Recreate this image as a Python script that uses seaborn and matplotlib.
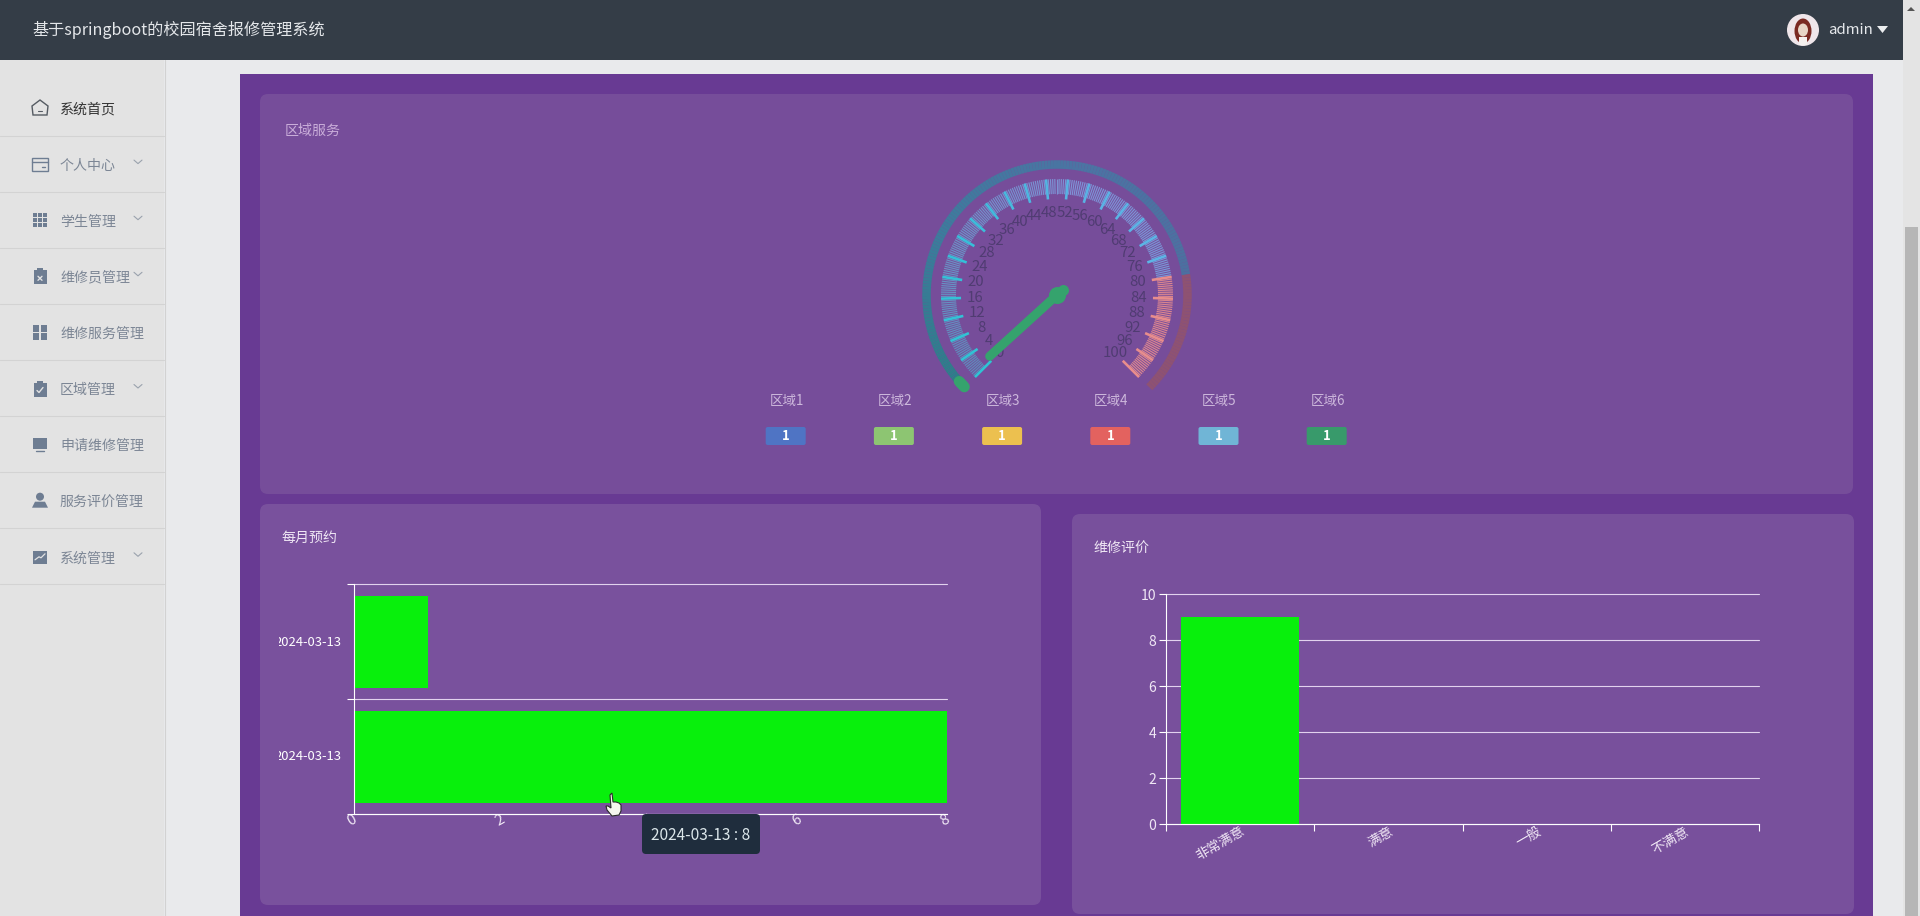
# campus dorm repair dashboard: gauge plus two bar charts inside the admin page shell

import numpy as np
import pandas as pd
import seaborn as sns
import matplotlib.pyplot as plt
from matplotlib.colors import LinearSegmentedColormap
from matplotlib.patches import Circle, Ellipse, FancyBboxPatch, Polygon, Rectangle
from matplotlib.transforms import Affine2D, Bbox

W, H = 1920, 916

page_title = "基于springboot的校园宿舍报修管理系统"
user_name = "admin"
menu_names = ["系统首页", "个人中心", "学生管理", "维修员管理", "维修服务管理",
              "区域管理", "申请维修管理", "服务评价管理", "系统管理"]
menu_has_arrow = [False, True, True, True, False, True, False, False, True]

gauge_title = "区域服务"
gauge_value = 1
gauge_ticks = list(range(0, 101, 4))
region_names = ["区域1", "区域2", "区域3", "区域4", "区域5", "区域6"]
region_values = [1, 1, 1, 1, 1, 1]
region_colors = ["#4f74c4", "#8dc572", "#ecc04f", "#e3625f", "#70b5d6", "#389a6b"]

month_title = "每月预约"
month_labels = ["2024-03-13", "2024-03-13"]
month_values = [1, 8]
month_ticks = [0, 2, 4, 6, 8]
tooltip_text = "2024-03-13 : 8"

rating_title = "维修评价"
rating_names = ["非常满意", "满意", "一般", "不满意"]
rating_values = [9, 0, 0, 0]
rating_ticks = [0, 2, 4, 6, 8, 10]

GREEN = "#08f00c"
GRID = "#e2d2ee"
LIGHT = "#efe6f4"


def px(size):
    # css pixels to points at dpi 100
    return size * 0.72


def rect_of(x0, y0, x1, y1):
    return [x0 / W, 1 - y1 / H, (x1 - x0) / W, (y1 - y0) / H]


def card(ax, x0, y0, x1, y1, color, radius=8):
    ax.add_patch(FancyBboxPatch((x0, y0), x1 - x0, y1 - y0, linewidth=0, facecolor=color,
                                boxstyle=f"round,pad=0,rounding_size={radius}"))


def draw_icon(ax, i, cx, cy, c):
    if i == 0:  # home
        ax.add_patch(Polygon([(cx - 8, cy - 2), (cx, cy - 8), (cx + 8, cy - 2), (cx + 7, cy + 7), (cx - 7, cy + 7)],
                             closed=True, fill=False, edgecolor="#555b63", lw=1))
        ax.plot([cx - 2, cx + 2], [cy + 3, cy + 3], color="#555b63", lw=0.8)
    elif i == 1:  # wallet
        ax.add_patch(Rectangle((cx - 8, cy - 6), 16, 13, fill=False, edgecolor=c, lw=1))
        ax.plot([cx - 8, cx + 8], [cy - 2, cy - 2], color=c, lw=1)
        ax.plot([cx + 2, cx + 5], [cy + 3, cy + 3], color=c, lw=1)
    elif i == 2:  # grid
        for a in (-7, -2, 3):
            for b in (-7, -2, 3):
                ax.add_patch(Rectangle((cx + a, cy + b), 4.2, 4.2, color=c, lw=0))
    elif i in (3, 5):  # clipboards
        ax.add_patch(Rectangle((cx - 6.5, cy - 6), 13, 14, color=c, lw=0))
        ax.add_patch(Rectangle((cx - 3, cy - 8), 6, 4, color=c, lw=0))
        if i == 3:
            ax.plot([cx - 2, cx + 2], [cy, cy + 4], color="#e3e3e3", lw=1)
            ax.plot([cx - 2, cx + 2], [cy + 4, cy], color="#e3e3e3", lw=1)
        else:
            ax.plot([cx - 3, cx - 1, cx + 3], [cy + 2, cy + 4, cy - 1], color="#e3e3e3", lw=1)
    elif i == 4:  # four squares
        for a in (-7, 1):
            for b in (-7, 1):
                ax.add_patch(Rectangle((cx + a, cy + b), 6.2, 6.2, color=c, lw=0))
    elif i == 6:  # monitor
        ax.add_patch(Rectangle((cx - 7, cy - 7), 14, 11, color=c, lw=0))
        ax.plot([cx - 4, cx + 4], [cy + 6, cy + 6], color=c, lw=1)
    elif i == 7:  # person
        ax.add_patch(Circle((cx, cy - 4), 4, color=c, lw=0))
        ax.add_patch(Polygon([(cx - 8, cy + 7), (cx - 5, cy + 1), (cx + 5, cy + 1), (cx + 8, cy + 7)], color=c, lw=0))
    else:  # chart
        ax.add_patch(Rectangle((cx - 7, cy - 6), 14, 13, color=c, lw=0))
        ax.plot([cx - 5, cx - 1, cx + 1, cx + 5], [cy + 3, cy, cy + 1, cy - 3], color="#e3e3e3", lw=0.9)


sns.set_theme(style="white")
plt.rcParams["font.family"] = ["Noto Sans CJK SC", "DejaVu Sans"]
plt.rcParams["axes.unicode_minus"] = False

fig = plt.figure(figsize=(W / 100, H / 100), dpi=100, facecolor="#e9eaec")

# page shell
bg = fig.add_axes([0, 0, 1, 1], zorder=0)
bg.set_xlim(0, W)
bg.set_ylim(H, 0)
bg.axis("off")

bg.add_patch(Rectangle((0, 60), 164, H - 60, color="#e3e3e3", lw=0))
bg.plot([164.5, 164.5], [60, H], color="#d2d2d2", lw=0.8)
bg.add_patch(Rectangle((240, 74), 1633, H - 74, color="#683a93", lw=0))
card(bg, 260, 94, 1853, 494, "#764d9a")
card(bg, 260, 504, 1041, 905, "#79519d")
card(bg, 1072, 514, 1854, 914, "#78509c")
bg.add_patch(Rectangle((0, 0), 1903, 60, color="#343d47", lw=0))
bg.text(32, 30, page_title, color="#e4e7ea", fontsize=px(16.1), va="center")

# scrollbar
bg.add_patch(Rectangle((1903, 0), 17, H, color="#e4e4e4", lw=0))
bg.add_patch(Rectangle((1905, 227), 13, H - 227, color="#b6b6b6", lw=0))
bg.add_patch(Polygon([(1907, 11), (1911, 7), (1915, 11)], color="#555555", lw=0))

# user block
bg.add_patch(Circle((1803, 30), 16, color="#efe6ea", lw=0))
bg.add_patch(Ellipse((1803, 31), 17, 25, color="#7a2a22", lw=0))
bg.add_patch(Ellipse((1803, 30), 10, 13, color="#e8d5c6", lw=0))
bg.add_patch(Rectangle((1799, 37), 8, 8, color="#f4f0ee", lw=0))
bg.text(1828, 30, user_name, color="#e6e9ec", fontsize=px(15), va="center")
bg.add_patch(Polygon([(1877, 26), (1888, 26), (1882.5, 33)], color="#eceef0", lw=0))

# sidebar menu
for i, name in enumerate(menu_names):
    cy = 108 + i * 56.1
    bg.text(60, cy + 1.5, name, color="#333333" if i == 0 else "#7c8695", fontsize=px(14), va="center")
    draw_icon(bg, i, 40, cy, "#6e7d92")
    bg.plot([0, 164], [136 + i * 56, 136 + i * 56], color="#d3d3d3", lw=0.8)
    if menu_has_arrow[i]:
        bg.plot([134, 138, 142], [cy - 4, cy - 0.5, cy - 4], color="#9aa2ad", lw=0.8)

bg.text(285, 131, gauge_title, color="#c9add9", fontsize=px(14), va="center")
bg.text(281, 538, month_title, color=LIGHT, fontsize=px(14), va="center")
bg.text(1093, 549, rating_title, color=LIGHT, fontsize=px(14), va="center")

# gauge
gx, gy, gr = 1057, 295, 140
gauge = fig.add_axes(rect_of(gx - gr, gy - gr, gx + gr, gy + gr), projection="polar", zorder=2)
gauge.set_ylim(0, gr)
gauge.axis("off")


def angle(v):
    return np.radians(225 - np.asarray(v) / 100 * 270)


ring_cold = LinearSegmentedColormap.from_list("ring", ["#2d7d88", "#3c7c9c", "#4b74a3", "#4c70a0"])
band_cold = LinearSegmentedColormap.from_list("band", ["#5c8dbb", "#6c92c6", "#7f92d6", "#7896d6"])
tick_cold = LinearSegmentedColormap.from_list("tick", ["#2fc4d4", "#35c0d8", "#5ab2e4", "#5cb6e6"])


def pick(cmap, hot, v):
    return hot if v >= 80 else cmap(v / 80)


ring_steps = np.arange(0, 100.01, 0.5)
for v0, v1 in zip(ring_steps[:-1], ring_steps[1:]):
    gauge.plot(angle([v0, v1]), [130.5, 130.5], color=pick(ring_cold, "#8e5272", v0), lw=px(8.5),
               solid_capstyle="butt")
gauge.plot(angle([0.1, gauge_value + 0.3]), [130.5, 130.5], color="#35a36d", lw=px(11), solid_capstyle="round")

minor_values = np.arange(0, 100.01, 0.4)
gauge.vlines(angle(minor_values), 101, 116, colors=[pick(band_cold, "#d9858f", v) for v in minor_values],
             lw=px(1.2))
for t in gauge_ticks:
    low = 93 if t in (0, 100) else 96
    gauge.plot(angle([t, t]), [low, 116], color=pick(tick_cold, "#e88d8c", t), lw=px(2.6),
               solid_capstyle="butt")
    gauge.text(angle(t), 82, str(t), color="#503c72", fontsize=px(15), ha="center", va="center")

gauge.plot([angle(gauge_value)] * 2, [91, 0], color="#35a36d", lw=px(9), solid_capstyle="round", zorder=5)
gauge.scatter([0], [0], s=px(17) ** 2, color="#35a36d", zorder=5, linewidths=0)
gauge.scatter([angle(gauge_value) + np.pi], [8], s=px(11) ** 2, color="#35a36d", zorder=5, linewidths=0)

# legend row under the gauge
for i, (name, val, col) in enumerate(zip(region_names, region_values, region_colors)):
    cx = 785.7 + i * 108.2
    bg.text(cx + 1, 401, name, color="#cdb8dc", fontsize=px(13.5), ha="center", va="center")
    card(bg, cx - 20, 427, cx + 20, 445, col, radius=2)
    bg.text(cx, 435.5, str(val), color="white", fontsize=px(13), fontweight="bold", ha="center", va="center")

# monthly bookings, horizontal bars (labels repeat so bars are keyed by row)
month_df = pd.DataFrame({"row": range(len(month_values)), "count": month_values})
ax1 = fig.add_axes(rect_of(354, 584, 947, 814), zorder=3)
sns.barplot(data=month_df, x="count", y="row", orient="h", color=GREEN, saturation=1, width=0.8,
            linewidth=0, ax=ax1)
ax1.set_xlim(0, 8)
ax1.set_xlabel("")
ax1.set_ylabel("")
ax1.set_facecolor("none")
ax1.set_axisbelow(True)
ax1.set_xticks(month_ticks)
ax1.set_xticklabels(month_ticks, rotation=30, ha="right", va="top", rotation_mode="anchor", color=LIGHT,
                    fontsize=px(15))
ax1.set_yticks(range(len(month_labels)))
ax1.set_yticklabels(month_labels, color="white", fontsize=px(13))
ax1.set_yticks([-0.5, 0.5, 1.5], minor=True)
ax1.tick_params(axis="x", length=0, pad=-1)
ax1.tick_params(axis="y", which="major", length=0, pad=9)
ax1.tick_params(axis="y", which="minor", length=5, width=0.8, color="white", left=True)
ax1.grid(axis="y", which="minor", color=GRID, lw=0.8, clip_on=False)
ax1.grid(axis="y", which="major", visible=False)
for side in ("top", "right"):
    ax1.spines[side].set_visible(False)
for side in ("left", "bottom"):
    ax1.spines[side].set_color("white")
    ax1.spines[side].set_linewidth(0.8)
for lab in ax1.get_xticklabels():
    lab.set_transform(lab.get_transform() + Affine2D().translate(-2, 0))
for lab in ax1.get_yticklabels():
    # the first digit is cut off by the chart box in the page
    lab.set_transform(lab.get_transform() + Affine2D().translate(0, 1))
    lab.set_clip_box(Bbox([[279, 0], [W, H]]))
    lab.set_clip_on(True)

# repair ratings
rating_df = pd.DataFrame({"rating": rating_names, "count": rating_values})
ax2 = fig.add_axes(rect_of(1166, 594, 1759, 824), zorder=3)
sns.barplot(data=rating_df, x="rating", y="count", color=GREEN, saturation=1, width=0.8, linewidth=0, ax=ax2)
ax2.set_ylim(0, 10)
ax2.set_xlabel("")
ax2.set_ylabel("")
ax2.set_facecolor("none")
ax2.set_axisbelow(True)
ax2.set_yticks(rating_ticks)
ax2.set_yticklabels(rating_ticks, color=LIGHT, fontsize=px(14))
ax2.set_xticks(range(len(rating_names)))
ax2.set_xticklabels(rating_names, rotation=30, ha="right", va="top", rotation_mode="anchor", color=LIGHT,
                    fontsize=px(13.5))
ax2.set_xticks(np.arange(-0.5, len(rating_names)), minor=True)
ax2.tick_params(axis="x", which="major", length=0, pad=0)
ax2.tick_params(axis="x", which="minor", length=5, width=0.8, color="white", bottom=True)
ax2.tick_params(axis="y", length=5, width=0.8, color="white", left=True, pad=2)
ax2.grid(axis="y", color=GRID, lw=0.8, clip_on=False)
for side in ("top", "right"):
    ax2.spines[side].set_visible(False)
for side in ("left", "bottom"):
    ax2.spines[side].set_color("white")
    ax2.spines[side].set_linewidth(0.8)

# tooltip and mouse pointer sit above the charts
top = fig.add_axes([0, 0, 1, 1], zorder=5)
top.set_xlim(0, W)
top.set_ylim(H, 0)
top.axis("off")
top.patch.set_alpha(0)
card(top, 642, 814, 760, 854, "#1f2d3d", radius=4)
top.text(701, 835, tooltip_text, color="#dbe6ea", fontsize=px(15.5), ha="center", va="center")
hand = [(610, 795), (612, 793), (613, 802), (616, 802), (619, 803), (621, 805), (621, 811), (619, 815),
        (612, 816), (607, 810), (606, 806), (608, 806), (611, 808)]
top.add_patch(Polygon(hand, closed=True, facecolor="#f6f6ee", edgecolor="#2b2b2b", lw=0.8))

fig.savefig("out.png", dpi=100, facecolor=fig.get_facecolor())
